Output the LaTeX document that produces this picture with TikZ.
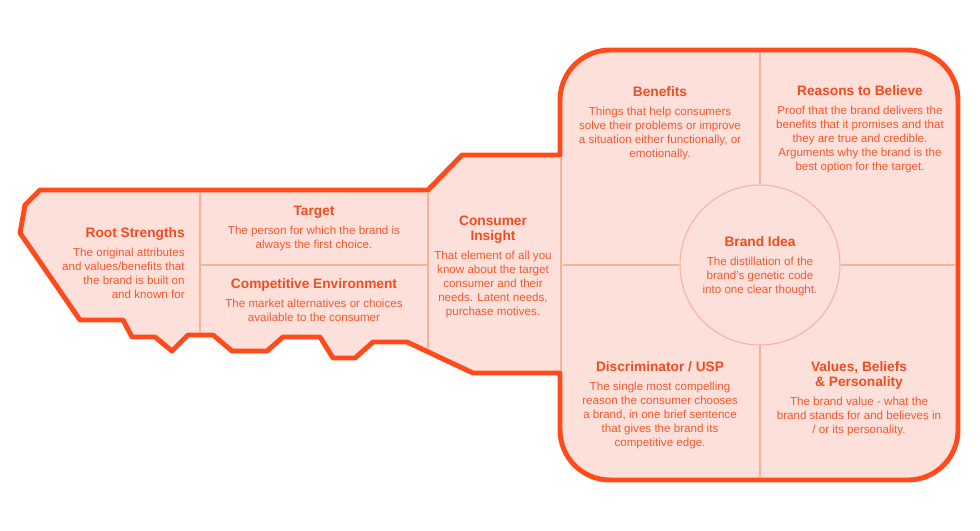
\documentclass[tikz,border=0pt]{standalone}
\usepackage{fontspec}
\setmainfont{Liberation Sans}
\usetikzlibrary{positioning}
\definecolor{keyred}{RGB}{255,74,28}
\definecolor{keyfill}{RGB}{253,224,217}
\definecolor{keythin}{RGB}{247,178,158}
\definecolor{headred}{RGB}{240,76,34}
\definecolor{bodyred}{RGB}{244,88,48}

\begin{document}
\begin{tikzpicture}[x=0.2mm,y=-0.2mm,
  keyline/.style={draw=keyred,line width=2.8pt,line join=round},
  divider/.style={draw=keythin,line width=0.6pt},
  blocktitle/.style={inner sep=0pt,align=center,text=headred,
                     font=\fontsize{7.8}{9}\selectfont\bfseries},
  blocktext/.style={inner sep=0pt,align=center,text=bodyred,
                    font=\fontsize{6.6}{7.9}\selectfont},
  node distance=2pt
]
  \useasboundingbox (0,0) rectangle (980,530);

  % key body
  \fill[keyfill] (560,373) [rounded corners=1cm] -- (560,480) -- (958,480)
    -- (958,50) -- (560,50) [sharp corners] -- (560,155) -- (462,155)
    -- (428,190) -- (40,190) -- (25,205) -- (20,233) -- (80,320)
    -- (123,320) -- (132,337) -- (155,337) -- (172,351) -- (188,335)
    -- (213,335) -- (232,351) -- (267,351) -- (283,337) -- (320,337)
    -- (333,358) -- (355,358) -- (373,342) -- (407,342) -- (473,373) -- cycle;

  % dividers
  \draw[divider] (200,193) -- (200,332);
  \draw[divider] (428,193) -- (428,349);
  \draw[divider] (200,265) -- (428,265);
  \draw[divider] (561,157) -- (561,371);
  \node[divider,circle,minimum size=32mm,inner sep=0pt] (idea) at (760,265) {};
  \draw[divider] (760,53) -- (idea.north);
  \draw[divider] (idea.south) -- (760,477);
  \draw[divider] (563,265) -- (idea.west);
  \draw[divider] (idea.east) -- (955,265);

  % outline
  \draw[keyline] (560,373) [rounded corners=1cm] -- (560,480) -- (958,480)
    -- (958,50) -- (560,50) [sharp corners] -- (560,155) -- (462,155)
    -- (428,190) -- (40,190) -- (25,205) -- (20,233) -- (80,320)
    -- (123,320) -- (132,337) -- (155,337) -- (172,351) -- (188,335)
    -- (213,335) -- (232,351) -- (267,351) -- (283,337) -- (320,337)
    -- (333,358) -- (355,358) -- (373,342) -- (407,342) -- (473,373) -- cycle;

  % Root Strengths
  \node[blocktitle,anchor=south east] (rootT) at (185,243) {Root Strengths\strut};
  \node[blocktext,align=right,below left=2pt and 0pt of rootT.south east] (rootB)
    {\strut The original attributes\\and values/benefits that\\the brand is built on\\and known for};

  % Target
  \node[blocktitle,anchor=south] (targetT) at (314,221) {Target\strut};
  \node[blocktext,below=of targetT] (targetB)
    {\strut The person for which the brand is\\always the first choice.};

  % Competitive Environment
  \node[blocktitle,anchor=south] (compT) at (314,294) {Competitive Environment\strut};
  \node[blocktext,below=of compT] (compB)
    {\strut The market alternatives or choices\\available to the consumer};

  % Consumer Insight
  \node[blocktitle,anchor=south] (insightT) at (493,246) {Consumer\\Insight\strut};
  \node[blocktext,below=of insightT] (insightB)
    {\strut That element of all you\\know about the target\\consumer and their\\needs. Latent needs,\\purchase motives.};

  % Benefits
  \node[blocktitle,anchor=south] (benefitT) at (660,102) {Benefits\strut};
  \node[blocktext,below=of benefitT] (benefitB)
    {\strut Things that help consumers\\solve their problems or improve\\a situation either functionally, or\\emotionally.};

  % Reasons to Believe
  \node[blocktitle,anchor=south] (reasonT) at (860,101) {Reasons to Believe\strut};
  \node[blocktext,below=of reasonT] (reasonB)
    {\strut Proof that the brand delivers the\\benefits that it promises and that\\they are true and credible.\\Arguments why the brand is the\\best option for the target.};

  % Brand Idea
  \node[blocktitle,anchor=south] (ideaT) at (760,252) {Brand Idea\strut};
  \node[blocktext,below=of ideaT] (ideaB)
    {\strut The distillation of the\\brand's genetic code\\into one clear thought.};

  % Discriminator / USP
  \node[blocktitle,anchor=south] (uspT) at (660,377) {Discriminator / USP\strut};
  \node[blocktext,below=of uspT] (uspB)
    {\strut The single most compelling\\reason the consumer chooses\\a brand, in one brief sentence\\that gives the brand its\\competitive edge.};

  % Values, Beliefs & Personality
  \node[blocktitle,anchor=south] (valueT) at (859,392) {Values, Beliefs\\\& Personality\strut};
  \node[blocktext,below=of valueT] (valueB)
    {\strut The brand value - what the\\brand stands for and believes in\\/ or its personality.};
\end{tikzpicture}
\end{document}
